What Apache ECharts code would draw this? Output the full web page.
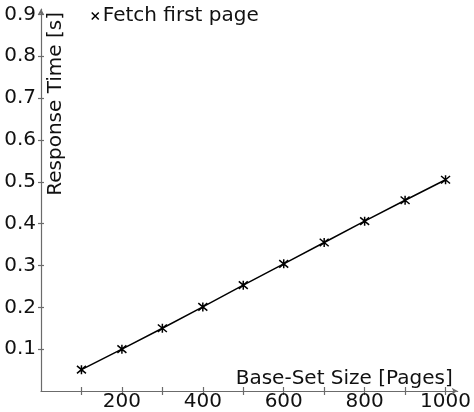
<!DOCTYPE html>
<html><head><meta charset="utf-8">
<script src="https://cdn.jsdelivr.net/npm/echarts@6/dist/echarts.min.js"></script>
<style>html,body{margin:0;padding:0;background:#fff}#c{width:474px;height:412px}</style>
</head><body><div id="c"></div>
<script>
const baseSetSize = [100, 200, 300, 400, 500, 600, 700, 800, 900, 1000];
const responseTime = [0.051, 0.100, 0.150, 0.201, 0.253, 0.304, 0.355, 0.406, 0.456, 0.505];
const xTickValues = [100, 200, 300, 400, 500, 600, 700, 800, 900, 1000];
const xLabelValues = [200, 400, 600, 800, 1000];
const yTickValues = [0.1, 0.2, 0.3, 0.4, 0.5, 0.6, 0.7, 0.8, 0.9];
const seriesName = 'Fetch first page';

const FONT = 'DejaVu Sans';
const FS = 20;
const axisColor = '#6b6b6b';
const starPath = 'path://M0,0L10,10M10,0L0,10M5,-1L5,11';
const xPath = 'path://M0,0L10,10M10,0L0,10';

const chart = echarts.init(document.getElementById('c'), null, {renderer: 'canvas'});
const xMain = {
  type: 'value', min: 0, max: 1030, position: 'bottom',
  name: 'Base-Set Size [Pages]', nameLocation: 'end', nameGap: -5,
  nameTextStyle: {fontFamily: FONT, fontSize: FS, color: '#111', align: 'right', verticalAlign: 'bottom', padding: [0,0,2,0]},
  axisLine: {show: true, lineStyle: {color: axisColor, width: 1.2}, symbol: ['none', 'arrow'], symbolSize: [5, 6]},
  axisTick: {show: true, customValues: xTickValues, length: 4, lineStyle: {color: axisColor, width: 1.2}},
  axisLabel: {customValues: xLabelValues, fontFamily: FONT, fontSize: FS, color: '#111', margin: 1, formatter: v => String(v)},
  splitLine: {show: false}
};
const xInner = {
  type: 'value', min: 0, max: 1030, position: 'bottom', offset: 0,
  axisLine: {show: false},
  axisTick: {show: true, inside: true, customValues: xTickValues, length: 4, lineStyle: {color: axisColor, width: 1.2}},
  axisLabel: {show: false}, splitLine: {show: false}
};
const yMain = {
  type: 'value', min: 0, max: 0.913,
  name: 'Response Time [s]', nameLocation: 'end', nameRotate: 90, nameGap: -3,
  nameTextStyle: {fontFamily: FONT, fontSize: FS, color: '#111', align: 'right', verticalAlign: 'top', padding: [5,0,0,0]},
  axisLine: {show: true, lineStyle: {color: axisColor, width: 1.2}, symbol: ['none', 'arrow'], symbolSize: [5, 6]},
  axisTick: {show: true, customValues: yTickValues, length: 3, lineStyle: {color: axisColor, width: 1.2}},
  axisLabel: {customValues: yTickValues, fontFamily: FONT, fontSize: FS, color: '#111', margin: 5, formatter: v => v.toFixed(1)},
  splitLine: {show: false}
};
const yInner = {
  type: 'value', min: 0, max: 0.913, position: 'left',
  axisLine: {show: false},
  axisTick: {show: true, inside: true, customValues: yTickValues, length: 3, lineStyle: {color: axisColor, width: 1.2}},
  axisLabel: {show: false}, splitLine: {show: false}
};
chart.setOption({
  animation: false,
  backgroundColor: '#fff',
  grid: {left: 41, right: 9, top: 9, bottom: 21, containLabel: false},
  legend: {
    left: 86, top: 1, itemWidth: 7, itemHeight: 7, itemGap: 6,
    textStyle: {fontFamily: FONT, fontSize: FS, color: '#111', padding: [0,0,0,-1]},
    data: [{name: seriesName, icon: xPath, itemStyle: {color: '#000', borderColor: '#000', borderWidth: 1.5}}]
  },
  xAxis: [xMain, xInner],
  yAxis: [yMain, yInner],
  series: [{
    name: seriesName, type: 'line',
    data: baseSetSize.map((x, i) => [x, responseTime[i]]),
    symbol: starPath, symbolSize: [9, 9], showSymbol: true,
    lineStyle: {color: '#000', width: 1.5},
    itemStyle: {color: '#000', borderColor: '#000', borderWidth: 1.5}
  }]
});
</script></body></html>
